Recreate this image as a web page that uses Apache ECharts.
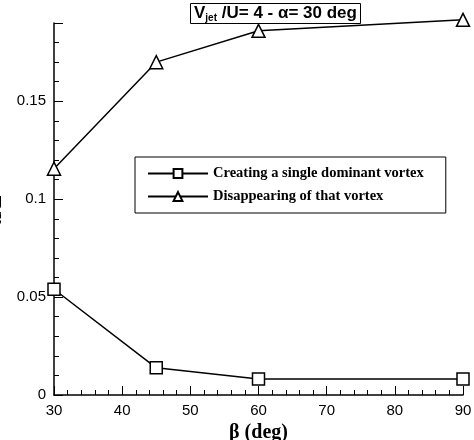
<!DOCTYPE html>
<html><head><meta charset="utf-8">
<script src="https://cdn.jsdelivr.net/npm/echarts@6/dist/echarts.min.js"></script>
<style>html,body{margin:0;padding:0;background:#fff}#c{width:474px;height:440px}</style>
</head><body><div id="c"></div>
<script>
const beta = [30, 45, 60, 90];
const singleVortex = [0.054, 0.0139, 0.0082, 0.0082];
const disappearing = [0.1156, 0.170, 0.186, 0.1916];
const chart = echarts.init(document.getElementById('c'));
const axisLbl = {color:'#000', fontFamily:'Liberation Sans', fontSize:15};
chart.setOption({
  animation:false,
  title:{text:'{a|V}{s|jet}{a| /U= 4 - α= 30 deg}', left:190, top:2, padding:[2,4,1,4],
    borderColor:'#000', borderWidth:1,
    textStyle:{rich:{a:{fontFamily:'Liberation Sans',fontWeight:'bold',fontSize:17,color:'#000'},
      s:{fontFamily:'Liberation Sans',fontWeight:'bold',fontSize:10,color:'#000',verticalAlign:'bottom',padding:[9,0,0,0]}}}},
  legend:{orient:'vertical', left:135, top:157, padding:[9,22,9,12], itemGap:8,
    borderColor:'#000', borderWidth:1, itemWidth:60, itemHeight:11,
    textStyle:{fontFamily:'Liberation Serif',fontWeight:'bold',fontSize:14.5,color:'#000'}},
  grid:{left:54, right:11, top:23, bottom:45, outerBoundsMode:'none', containLabel:false},
  xAxis:{type:'value', min:30, max:90, interval:10,
    name:'β (deg)', nameLocation:'middle', nameGap:27,
    nameTextStyle:{fontFamily:'Liberation Serif',fontWeight:'bold',fontSize:20,color:'#000'},
    axisLine:{lineStyle:{color:'#000',width:1.5}},
    axisTick:{inside:true,length:9,lineStyle:{color:'#000'}},
    minorTick:{show:true,splitNumber:5,length:5,lineStyle:{color:'#000'}},
    axisLabel:axisLbl, splitLine:{show:false}},
  yAxis:{type:'value', min:0, max:0.19, interval:0.05,
    name:'x/L', nameLocation:'middle', nameGap:38, nameRotate:90,
    nameTextStyle:{fontFamily:'Liberation Serif',fontWeight:'bold',fontSize:20,color:'#000'},
    axisLine:{show:true,lineStyle:{color:'#000',width:1.5}},
    axisTick:{inside:true,length:9,lineStyle:{color:'#000'}},
    minorTick:{show:true,splitNumber:5,length:5,lineStyle:{color:'#000'}},
    axisLabel:Object.assign({showMaxLabel:false,formatter:v=>String(+v.toFixed(2))},axisLbl), splitLine:{show:false}},
  series:[
    {name:'Creating a single dominant vortex', type:'line', data:beta.map((b,i)=>[b,singleVortex[i]]),
     symbol:'rect', symbolSize:12, showAllSymbol:true, clip:false,
     itemStyle:{color:'#fff',borderColor:'#000',borderWidth:1.5}, lineStyle:{color:'#000',width:1.5}},
    {name:'Disappearing of that vortex', type:'line', data:beta.map((b,i)=>[b,disappearing[i]]),
     symbol:'triangle', symbolSize:13, showAllSymbol:true, clip:false,
     itemStyle:{color:'#fff',borderColor:'#000',borderWidth:1.5}, lineStyle:{color:'#000',width:1.5}}
  ]
});
</script></body></html>
